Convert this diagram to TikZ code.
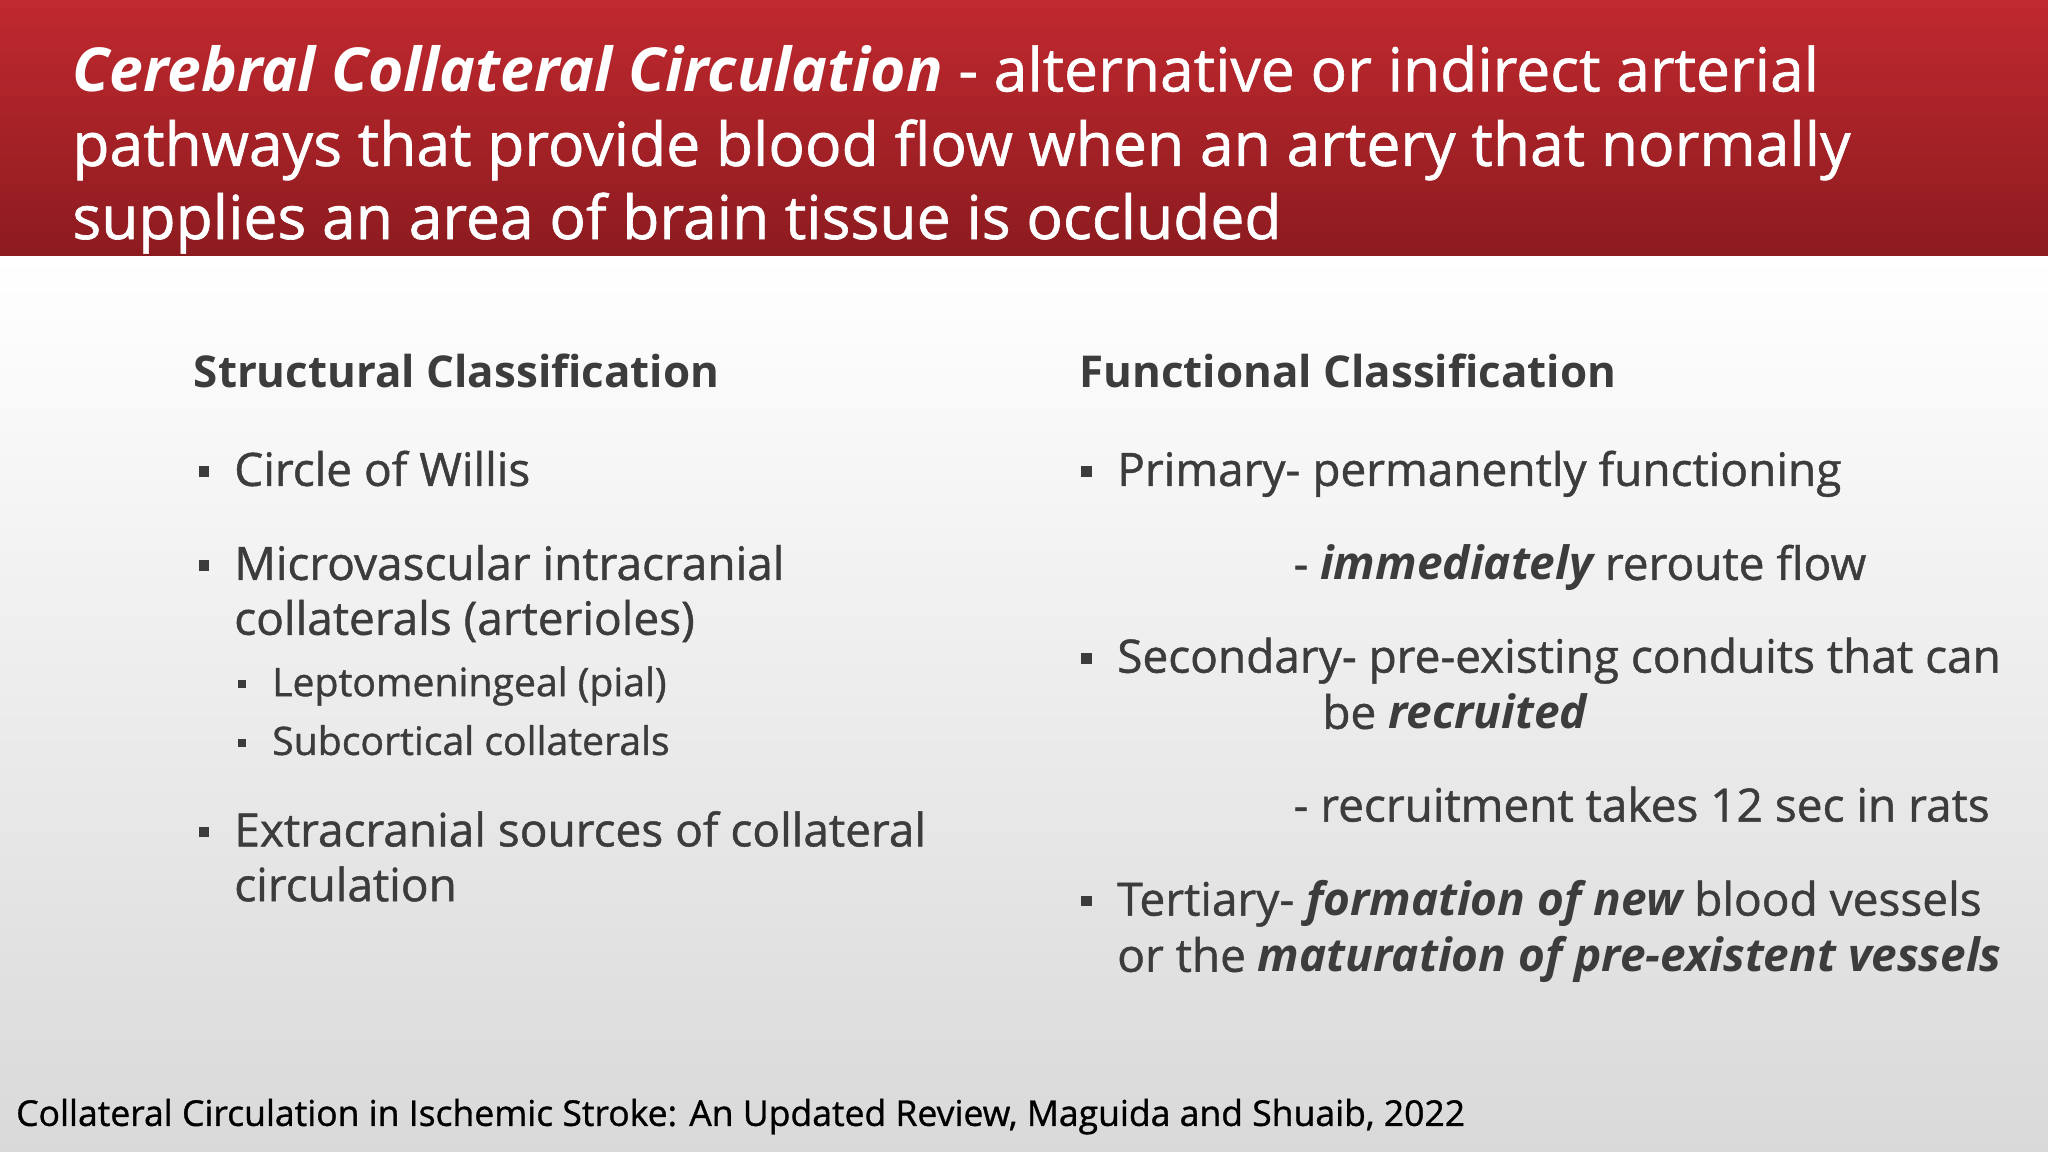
\documentclass[tikz,border=0pt]{standalone}
\usepackage{fontspec}
\setmainfont{Open Sans}
\newfontfamily\semi[FakeBold=1.0]{Open Sans}
\definecolor{txt}{HTML}{3C3C3C}
\definecolor{redtop}{HTML}{C0292F}
\definecolor{redbot}{HTML}{8C1B1F}
\definecolor{bgbot}{HTML}{D9D9D9}
\begin{document}
\begin{tikzpicture}[x=0.5pt,y=-0.5pt,
  title/.style={anchor=base west,inner sep=0,text=white,font=\fontsize{23.2}{26}\selectfont\semi},
  head/.style={anchor=base west,inner sep=0,text=txt,font=\fontsize{16.8}{20}\selectfont\bfseries},
  item/.style={anchor=base west,inner sep=0,text=txt,font=\fontsize{17.6}{20}\selectfont\semi},
  sub/.style={anchor=base west,inner sep=0,text=txt,font=\fontsize{15}{17}\selectfont\semi},
  foot/.style={anchor=base west,inner sep=0,text=black,font=\fontsize{13.6}{16}\selectfont\semi},
  bul/.style={fill=txt,draw=none,minimum size=4pt,inner sep=0},
  sbul/.style={fill=txt,draw=none,minimum size=3pt,inner sep=0}]
\useasboundingbox (0,0) rectangle (1568,882);
\shade[top color=white,bottom color=bgbot] (0,196) rectangle (1568,882);
\shade[top color=redtop,bottom color=redbot] (0,0) rectangle (1568,196);
\node[title] (t1) at (55,70) {{\fontspec{Open Sans}\bfseries\itshape Cerebral Collateral Circulation} - alternative or indirect arterial};
\node[title] (t2) at (55,127) {pathways that provide blood flow when an artery that normally};
\node[title] (t3) at (55,183) {supplies an area of brain tissue is occluded};
\node[head] (h1) at (148,297) {Structural Classification};
\node[head] (h2) at (826,297) {Functional Classification};
\node[item] (l1) at (179,372) {Circle of Willis};
\node[item] (l2) at (179,444) {Microvascular intracranial};
\node[item] (l2b) at (179,486) {collaterals (arterioles)};
\node[sub] (l3) at (208,533) {Leptomeningeal (pial)};
\node[sub] (l4) at (208,578) {Subcortical collaterals};
\node[item] (l5) at (179,648) {Extracranial sources of collateral};
\node[item] (l5b) at (179,690) {circulation};
\node[bul] (b1) at (156,361) {};
\node[bul] (b2) at (156,433) {};
\node[sbul] (s1) at (185,524) {};
\node[sbul] (s2) at (185,569) {};
\node[bul] (b3) at (156,637) {};
\node[item] (r1) at (855,372) {Primary- permanently functioning};
\node[item] (r1b) at (990,444) {- {\fontspec{Open Sans}\bfseries\itshape immediately} reroute flow};
\node[item] (r2) at (855,515) {Secondary- pre-existing conduits that can};
\node[item] (r2b) at (1012,558) {be {\fontspec{Open Sans}\bfseries\itshape recruited}};
\node[item] (r2c) at (990,629) {- recruitment takes 12 sec in rats};
\node[item] (r3) at (855,701) {Tertiary- {\fontspec{Open Sans}\bfseries\itshape formation of new} blood vessels};
\node[item] (r3b) at (855,744) {or the {\fontspec{Open Sans}\bfseries\itshape maturation of pre-existent vessels}};
\node[bul] (c1) at (832,361) {};
\node[bul] (c2) at (832,504) {};
\node[bul] (c3) at (832,690) {};
\node[foot] (f) at (12,862) {Collateral Circulation in Ischemic Stroke: An Updated Review, Maguida and Shuaib, 2022};
\end{tikzpicture}
\end{document}
